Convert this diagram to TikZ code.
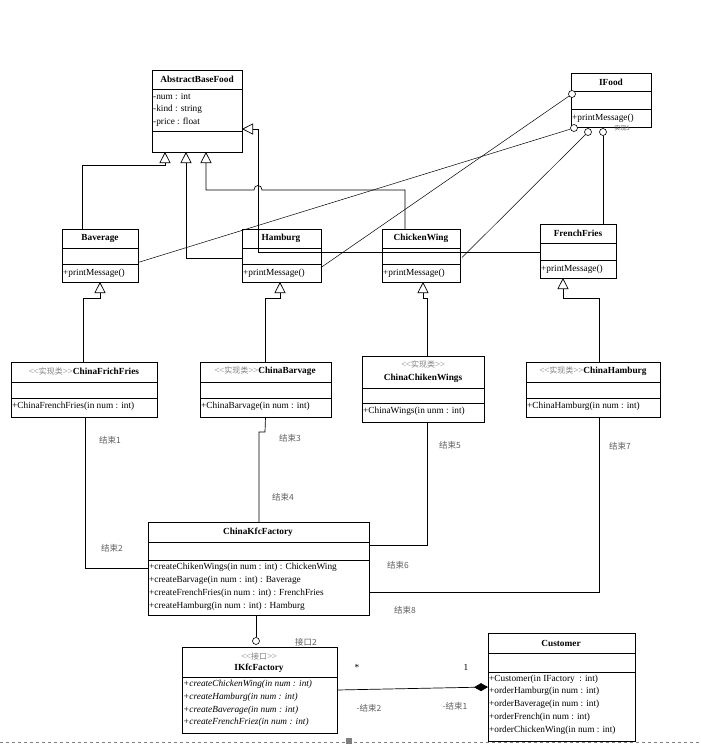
\documentclass[tikz,border=0pt]{standalone}
\usepackage{fontspec}
\setmainfont{Liberation Serif}
\newfontfamily\cjk{Noto Sans CJK SC}
\usetikzlibrary{arrows.meta}
\newcommand\ubox[7]{\node[box,minimum width={#4pt-#2pt},minimum height={#5pt-#3pt}] (#1) at (#2,#3) {};
 \draw[sep] (#2,#6) -- (#4,#6); \draw[sep] (#2,#7) -- (#4,#7);}
\newcommand\stt[1]{{\color{gray}\textless\kern-0.5pt\textless{\cjk\fontsize{8}{9}\selectfont #1}\textgreater\kern-0.5pt\textgreater}}
\begin{document}
\begin{tikzpicture}[x=1pt,y=-1pt,font=\fontsize{9.3}{10}\selectfont,
 box/.style={draw,line width=0.9pt,inner sep=0,outer sep=0,anchor=north west},
 sep/.style={line width=0.9pt},
 txt/.style={inner sep=0,anchor=west},
 ttl/.style={inner sep=0,font=\fontsize{9.3}{10}\selectfont\bfseries},
 itl/.style={inner sep=0,anchor=west,font=\fontsize{9.3}{10}\selectfont\itshape},
 lbl/.style={inner sep=0,text=gray!75!black,font=\fontsize{8.5}{10}\selectfont\cjk},
 ln/.style={line width=0.7pt},
 gen/.style={ln,-{Triangle[open,length=11pt,width=11pt,fill=white]}},
 lol/.style={draw,circle,fill=white,minimum size=7pt,inner sep=0,line width=0.6pt}]
\useasboundingbox (0,0) rectangle (701,744);
% boxes
\ubox{abf}{152}{70}{242}{152}{89}{131}
\ubox{ifood}{571}{73}{651}{127}{91}{109}
\ubox{bav}{62}{229}{138}{282}{248}{264}
\ubox{ham}{242}{229}{321}{282}{248}{264}
\ubox{cw}{382}{229}{460}{282}{248}{264}
\ubox{ff}{540}{224}{616}{278}{243}{260}
\ubox{cff}{11}{362}{157}{417}{382}{398}
\ubox{cb}{200}{362}{331}{417}{382}{398}
\ubox{ccw}{362}{356}{484}{422}{388}{403}
\ubox{ch}{526}{362}{660}{417}{382}{398}
\ubox{kfc}{148}{522}{369}{615}{542}{560}
\ubox{ikfc}{182}{647}{337}{733}{677}{677}
\ubox{cust}{488}{633}{635}{741}{653}{672}
% texts
\node[ttl] (t1) at (197,79) {AbstractBaseFood};
\node[txt] (a1) at (153,96) {-num : int};
\node[txt] (a2) at (153,109) {-kind : string};
\node[txt] (a3) at (153,122) {-price : float};
\node[ttl] (t2) at (611,82) {IFood};
\node[txt] (m2) at (572,118) {+printMessage()};
\node[ttl] (t3) at (100,238) {Baverage};
\node[txt] (m3) at (63,273) {+printMessage()};
\node[ttl] (t4) at (281,238) {Hamburg};
\node[txt] (m4) at (243,273) {+printMessage()};
\node[ttl] (t5) at (421,238) {ChickenWing};
\node[txt] (m5) at (383,273) {+printMessage()};
\node[ttl] (t6) at (578,233) {FrenchFries};
\node[txt] (m6) at (541,269) {+printMessage()};
\node[inner sep=0] (t7) at (84,371) {\stt{实现类}\textbf{ChinaFrichFries}};
\node[txt] (m7) at (12,406) {+ChinaFrenchFries(in num : int)};
\node[inner sep=0] (t8) at (265,371) {\stt{实现类}\textbf{ChinaBarvage}};
\node[txt] (m8) at (201,406) {+ChinaBarvage(in num : int)};
\node[inner sep=0] (s9) at (423,364) {\stt{实现类}};
\node[ttl] (t9) at (423,378) {ChinaChikenWings};
\node[txt] (m9) at (363,411) {+ChinaWings(in unm : int)};
\node[inner sep=0] (t10) at (593,371) {\stt{实现类}\textbf{ChinaHamburg}};
\node[txt] (m10) at (527,406) {+ChinaHamburg(in num : int)};
\node[ttl] (t11) at (258,532) {ChinaKfcFactory};
\node[txt] (k1) at (149,567) {+createChikenWings(in num : int) : ChickenWing};
\node[txt] (k2) at (149,580) {+createBarvage(in num : int) : Baverage};
\node[txt] (k3) at (149,593) {+createFrenchFries(in num : int) : FrenchFries};
\node[txt] (k4) at (149,606) {+createHamburg(in num : int) : Hamburg};
\node[inner sep=0] (s12) at (259,656) {\stt{接口}};
\node[ttl] (t12) at (259,668) {IKfcFactory};
\node[itl] (i1) at (183,684) {+createChickenWing(in num : int)};
\node[itl] (i2) at (183,697) {+createHamburg(in num : int)};
\node[itl] (i3) at (183,710) {+createBaverage(in num : int)};
\node[itl] (i4) at (183,722) {+createFrenchFriez(in num : int)};
\node[ttl] (t13) at (561,643) {Customer};
\node[txt] (c1) at (489,679) {+Customer(in IFactory\ \ : int)};
\node[txt] (c2) at (489,691) {+orderHamburg(in num : int)};
\node[txt] (c3) at (489,704) {+orderBaverage(in num : int)};
\node[txt] (c4) at (489,717) {+orderFrench(in num : int)};
\node[txt] (c5) at (489,730) {+orderChickenWing(in num : int)};
% generalisation to AbstractBaseFood
\draw[gen] ([xshift=-18pt]bav.north) |- (165,165) -- (165,152);
\draw[gen] ([yshift=-3pt]ham.west) -| (186,152);
\draw[gen] ([xshift=-16pt]cw.north) -- (405,190) -- (262,190) .. controls (262,184) and (254,184) .. (254,190) -- (206,190) -- (206,152);
\draw[gen] ([yshift=-1pt]ff.west) -| (258,129) -- (242,129);
% realisation to IFood
\node[lol] (o1) at (574,128) {};
\node[lol] (o2) at (572,94) {};
\node[lol] (o3) at (588,132) {};
\node[lol] (o4) at (603,132) {};
\draw[ln,line width=0.5pt] ([yshift=-7pt]bav.east) -- (o1);
\draw[ln,line width=0.5pt] ([yshift=-12pt]ham.east) -- (o2);
\draw[ln,line width=0.5pt] ([xshift=2pt,yshift=-2pt]cw.east) -- (o3);
\draw[ln] ([xshift=25pt]ff.north) -- (o4);
\node[lbl,font=\fontsize{6}{6}\selectfont\cjk] (r5) at (622,128) {实现5};
% China classes to food classes
\draw[gen] ([xshift=-0.5pt]cff.north) |- (100,298) -- (bav.south);
\draw[gen] ([xshift=0pt]cb.north) |- (280,298) -- (280,282);
\draw[gen] ([xshift=4pt]ccw.north) |- (423,298) -- (423,282);
\draw[gen] ([xshift=6pt]ch.north) |- (563,298) -- (563,278);
% to ChinaKfcFactory
\draw[ln] ([xshift=1pt]cff.south) |- (kfc.west|-0,568);
\draw[ln] ([xshift=0pt]cb.south) -- (265,432) -- (259,432) -- (259,522);
\draw[ln] ([xshift=4pt]ccw.south) |- (kfc.east|-0,545);
\draw[ln] ([xshift=6pt]ch.south) |- (kfc.east|-0,592);
\node[lol] (o5) at (256,641) {};
\draw[ln] (256,615) -- (o5);
\draw[ln,-{Diamond[length=14pt,width=8pt]}] (ikfc.east) -- (cust.west);
% labels
\node[lbl] (l1) at (110,440) {结束1};
\node[lbl] (l2) at (112,548) {结束2};
\node[lbl] (l3) at (290,438) {结束3};
\node[lbl] (l4) at (283,497) {结束4};
\node[lbl] (l5) at (450,445) {结束5};
\node[lbl] (l6) at (398,565) {结束6};
\node[lbl] (l7) at (620,446) {结束7};
\node[lbl] (l8) at (405,610) {结束8};
\node[lbl] (l9) at (306,642) {接口2};
\node[inner sep=0] (l10) at (357,667) {*};
\node[inner sep=0] (l11) at (466,667) {1};
\node[lbl] (l12) at (369,708) {-结束2};
\node[lbl] (l13) at (455,706) {-结束1};
% bottom
\draw[gray,dashed,line width=0.4pt] (0,742) -- (701,742);
\fill[gray] (346,738) rectangle (352,744);
\end{tikzpicture}
\end{document}
